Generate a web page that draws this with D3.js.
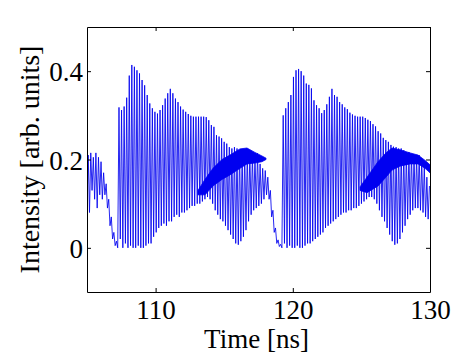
<!DOCTYPE html>
<html>
<head>
<meta charset="utf-8">
<script src="https://cdn.jsdelivr.net/npm/d3@7"></script>
<style>
  html, body { margin: 0; padding: 0; background: #fff; }
  svg { display: block; }
  text { font-family: "Liberation Serif", "Times New Roman", serif; fill: #000; }
</style>
</head>
<body>
<svg id="chart" width="474" height="355"></svg>
<script>
// ---- data ----
const xTicks = [110, 120, 130];
const yTicks = [0, 0.2, 0.4];
const xDomain = [105, 130];
const yDomain = [-0.1, 0.5];

// pulse train: one entry per pulse, pulse spacing in ns and first pulse time
const pulsePeriod = 0.187;
const firstPulse = 105.088;
// intensity at each pulse maximum
const pulsePeaks = [
  0.21, 0.215, 0.205, 0.215, 0.205, 0.195, 0.17, 0.145, 0.11, 0.07, 0.035, 0.015,
  0.318, 0.312, 0.32, 0.34, 0.39, 0.414, 0.41, 0.402, 0.395, 0.38,
  0.368, 0.346, 0.327, 0.316, 0.308, 0.304, 0.312, 0.323, 0.338, 0.35,
  0.36, 0.35, 0.338, 0.33, 0.32, 0.313, 0.308, 0.303, 0.299, 0.297,
  0.297, 0.297, 0.297, 0.297, 0.296, 0.289, 0.278, 0.274, 0.255, 0.252,
  0.248, 0.24, 0.236, 0.228, 0.225, 0.228, 0.225, 0.221, 0.218, 0.218,
  0.218, 0.214, 0.21, 0.207, 0.214, 0.19, 0.18, 0.175, 0.16, 0.13,
  0.085, 0.045, 0.018, 0.008,
  0.30, 0.316, 0.33, 0.346, 0.387, 0.402, 0.405, 0.40, 0.39, 0.372,
  0.369, 0.361, 0.334, 0.323, 0.316, 0.305, 0.312, 0.325, 0.342, 0.36,
  0.346, 0.342, 0.33, 0.325, 0.318, 0.314, 0.306, 0.302, 0.299, 0.297,
  0.297, 0.297, 0.294, 0.29, 0.287, 0.28, 0.275, 0.264, 0.259, 0.249,
  0.244, 0.24, 0.233, 0.229, 0.228, 0.225, 0.225, 0.221, 0.217, 0.217,
  0.213, 0.207, 0.207, 0.21, 0.199, 0.185, 0.16, 0.14
];
// intensity at the minimum just before each pulse
const pulseTroughs = [
  0.09, 0.08, 0.13, 0.11, 0.09, 0.12, 0.11, 0.12, 0.09, 0.05, 0.02, 0.005,
  0.0, 0.02, 0.0, 0.01, 0.0, 0.005, 0.0, 0.0, 0.005, 0.0,
  0.0, 0.005, 0.01, 0.01, 0.025, 0.035, 0.045, 0.05, 0.055, 0.05,
  0.06, 0.06, 0.07, 0.075, 0.07, 0.08, 0.08, 0.085, 0.09, 0.095,
  0.095, 0.10, 0.10, 0.105, 0.11, 0.115, 0.11, 0.10, 0.085, 0.075,
  0.065, 0.06, 0.05, 0.04, 0.03, 0.02, 0.01, 0.007, 0.015, 0.025,
  0.04, 0.06, 0.075, 0.085, 0.09, 0.095, 0.10, 0.11, 0.12, 0.11,
  0.07, 0.035, 0.01, 0.003,
  0.0, 0.01, 0.0, 0.005, 0.0, 0.0, 0.005, 0.0, 0.0, 0.005,
  0.01, 0.01, 0.015, 0.02, 0.025, 0.03, 0.035, 0.045, 0.05, 0.055,
  0.06, 0.065, 0.07, 0.075, 0.08, 0.08, 0.085, 0.085, 0.09, 0.09,
  0.095, 0.10, 0.105, 0.11, 0.115, 0.115, 0.11, 0.10, 0.085, 0.07,
  0.06, 0.045, 0.03, 0.015, 0.007, 0.01, 0.02, 0.035, 0.05, 0.065,
  0.075, 0.085, 0.09, 0.09, 0.085, 0.08, 0.07, 0.065
];

// fast small oscillation bands (drawn solid)
const band1Time  = [113.09, 113.60, 114.18, 114.84, 115.42, 116.15, 116.66, 117.24, 117.75, 118.05];
const band1Low   = [0.12, 0.12, 0.14, 0.155, 0.165, 0.18, 0.19, 0.192, 0.195, 0.2];
const band1High  = [0.13, 0.155, 0.18, 0.2, 0.21, 0.224, 0.226, 0.216, 0.208, 0.203];
const band2Time  = [124.90, 125.41, 126.21, 126.79, 127.23, 127.81, 128.54, 129.13, 129.64, 130.0];
const band2Low   = [0.13, 0.125, 0.14, 0.16, 0.176, 0.185, 0.19, 0.19, 0.18, 0.17];
const band2High  = [0.138, 0.16, 0.195, 0.215, 0.226, 0.222, 0.215, 0.21, 0.198, 0.188];

// ---- layout ----
const W = 474, H = 355;
const margin = { left: 87, right: 44, top: 27, bottom: 63 };
const iw = W - margin.left - margin.right;
const ih = H - margin.top - margin.bottom;

const svg = d3.select("#chart");
const g = svg.append("g").attr("transform", `translate(${margin.left},${margin.top})`);

const x = d3.scaleLinear().domain(xDomain).range([0, iw]);
const y = d3.scaleLinear().domain(yDomain).range([ih, 0]);

g.append("clipPath").attr("id", "clip")
  .append("rect").attr("x", 0).attr("y", 0).attr("width", iw).attr("height", ih);

const plot = g.append("g").attr("clip-path", "url(#clip)");

// build the pulse polyline
const pts = [];
pulsePeaks.forEach((p, i) => {
  const tp = firstPulse + i * pulsePeriod;
  pts.push([tp - pulsePeriod / 2, pulseTroughs[i]]);
  pts.push([tp, p]);
});

const line = d3.line().x(d => x(d[0])).y(d => y(d[1]));
const blue = "#0000f0";

function band(times, lo, hi) {
  const data = times.map((t, i) => ({ t, lo: lo[i], hi: hi[i] }));
  plot.append("path")
    .datum(data)
    .attr("fill", blue)
    .attr("stroke", blue)
    .attr("stroke-width", 0.8)
    .attr("d", d3.area().x(d => x(d.t)).y0(d => y(d.lo)).y1(d => y(d.hi)));
}

plot.append("path")
  .datum(pts)
  .attr("fill", "none")
  .attr("stroke", blue)
  .attr("stroke-width", 0.85)
  .attr("d", line);

band(band1Time, band1Low, band1High);
band(band2Time, band2Low, band2High);

// ---- axes (MATLAB box style, ticks inside) ----
const tickLen = 4;
const fontSize = 27;

const xb = g.append("g").attr("transform", `translate(0,${ih})`)
  .call(d3.axisBottom(x).tickValues(xTicks).tickSizeInner(-tickLen).tickSizeOuter(0).tickFormat(d3.format("d")));
xb.selectAll("text").attr("y", 27).attr("dy", 0).style("font-size", fontSize + "px");

g.append("g")
  .call(d3.axisTop(x).tickValues(xTicks).tickSizeInner(-tickLen).tickSizeOuter(0).tickFormat(""));

const yl = g.append("g")
  .call(d3.axisLeft(y).tickValues(yTicks).tickSizeInner(-tickLen).tickSizeOuter(0).tickFormat(d => d === 0 ? "0" : d3.format(".1f")(d)));
yl.selectAll("text").attr("x", -4).attr("dy", "0.36em").style("font-size", fontSize + "px");

g.append("g").attr("transform", `translate(${iw},0)`)
  .call(d3.axisRight(y).tickValues(yTicks).tickSizeInner(-tickLen).tickSizeOuter(0).tickFormat(""));

g.selectAll(".domain, .tick line").attr("stroke", "#000").attr("stroke-width", 1);
g.selectAll(".tick text").attr("fill", "#000").attr("font-family", null);

// axis titles
svg.append("text")
  .attr("x", margin.left + iw / 2 - 2)
  .attr("y", 348)
  .attr("text-anchor", "middle")
  .style("font-size", "27px")
  .text("Time [ns]");

svg.append("text")
  .attr("transform", `translate(39,${margin.top + ih / 2}) rotate(-90)`)
  .attr("text-anchor", "middle")
  .style("font-size", "28px")
  .text("Intensity [arb. units]");
</script>
</body>
</html>
